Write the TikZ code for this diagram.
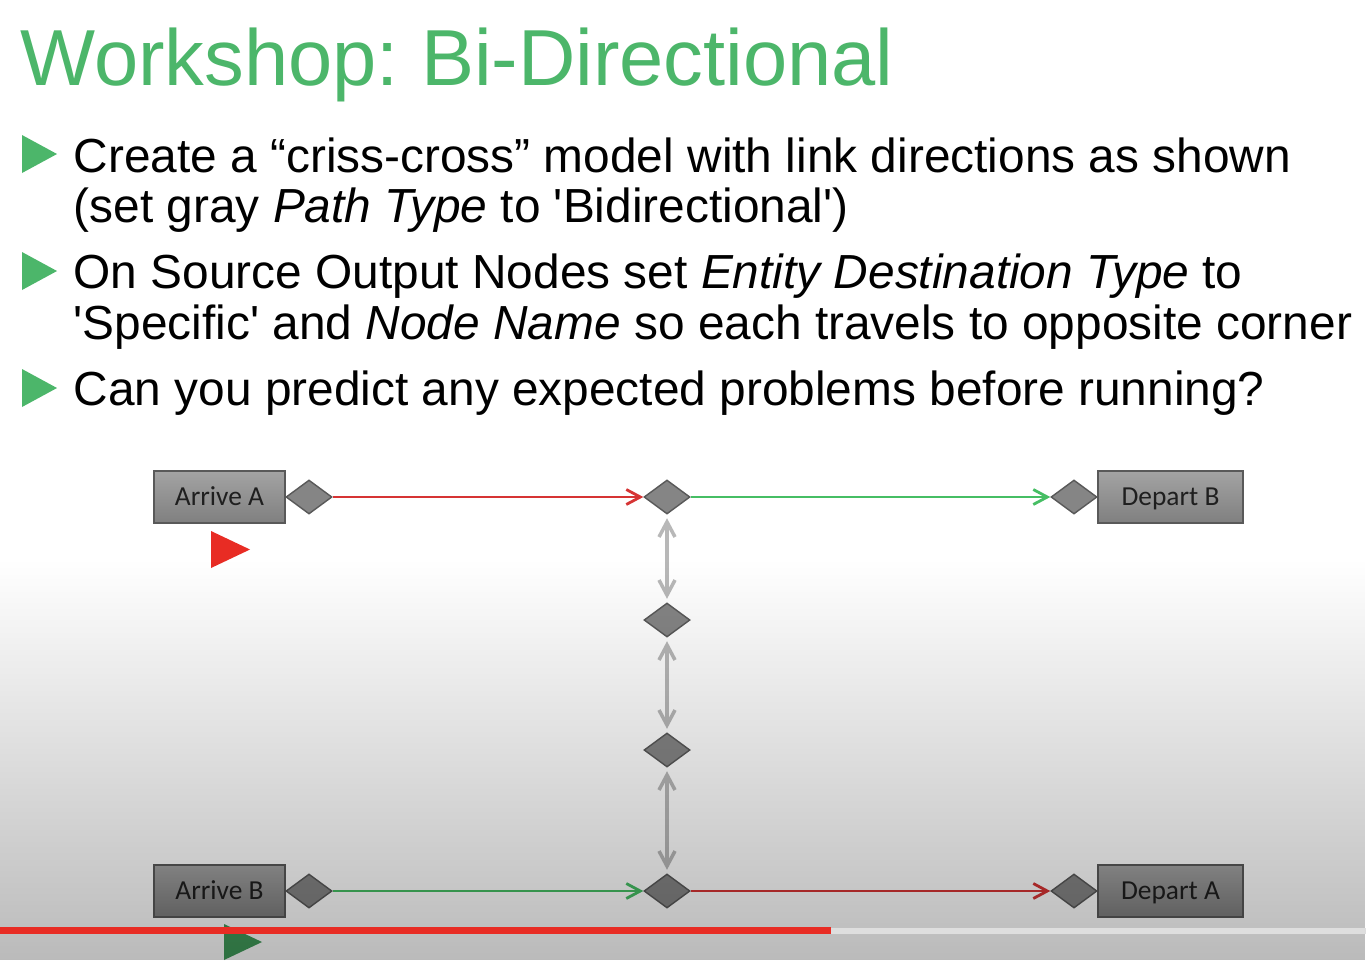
\documentclass[tikz,border=0pt]{standalone}
\usepackage{fontspec}
\setmainfont{Liberation Sans}
\newfontfamily\simfont{Carlito}
\usetikzlibrary{shapes.geometric,arrows.meta,fadings}
\definecolor{slidegreen}{RGB}{76,182,106}
\definecolor{linkred}{RGB}{214,52,52}
\definecolor{linkgreen}{RGB}{70,190,100}
\definecolor{barred}{RGB}{232,44,36}
\newcommand{\apos}{\textquotesingle}
\frenchspacing
\begin{document}
\begin{tikzpicture}[x=0.01cm,y=-0.01cm,
    title/.style={anchor=base west,inner sep=0pt,text=slidegreen,font=\fontsize{22.6}{28}\selectfont},
    line/.style={anchor=base west,inner sep=0pt,font=\fontsize{13.6}{16}\selectfont},
    box/.style={draw=black!65,top color=black!36,bottom color=black!50,minimum width=1.31cm,
      minimum height=0.52cm,inner sep=0pt,text height=5pt,text depth=0.2pt,text=black!88,
      font=\simfont\fontsize{7.8}{9}\selectfont},
    conn/.style={shape=diamond,draw=black!65,fill=black!48,minimum width=0.46cm,
      minimum height=0.34cm,inner sep=0pt},
    link/.style={line width=0.8pt,-{Straight Barb[length=1.4mm,width=1.5mm]}},
    bilink/.style={line width=1pt,black!28,{Straight Barb[length=1.5mm,width=1.6mm]}-{Straight Barb[length=1.5mm,width=1.6mm]},
      shorten <=1pt,shorten >=1pt}]
  \useasboundingbox (0,0) rectangle (1366,960);
  \fill[white] (0,0) rectangle (1366,960);

  % slide text
  \node[title] (title) at (20,85) {Workshop: Bi-Directional};
  \fill[slidegreen] (22,135) -- (57,154) -- (22,173) -- cycle;
  \fill[slidegreen] (22,252) -- (57,271) -- (22,290) -- cycle;
  \fill[slidegreen] (22,369) -- (57,388) -- (22,407) -- cycle;
  \node[line] (b1a) at (73,172) {Create a “criss-cross” model with link directions as shown};
  \node[line] (b1b) at (73,222) {(set gray \textit{Path Type} to \apos Bidirectional\apos)};
  \node[line] (b2a) at (73,288) {On Source Output Nodes set \textit{Entity Destination Type} to};
  \node[line] (b2b) at (73,339) {\apos Specific\apos{} and \textit{Node Name} so each travels to opposite corner};
  \node[line] (b3a) at (73,405) {Can you predict any expected problems before running?};

  % model
  \node[box] (arrA) at (219.5,497) {Arrive A};
  \node[box] (arrB) at (219.5,891) {Arrive B};
  \node[box,minimum width=1.45cm] (depB) at (1170.5,497) {Depart B};
  \node[box,minimum width=1.45cm] (depA) at (1170.5,891) {Depart A};
  \node[conn] (outA) at (309,497) {};
  \node[conn] (outB) at (309,891) {};
  \node[conn] (hubT) at (667,497) {};
  \node[conn] (mid1) at (667,620) {};
  \node[conn] (mid2) at (667,750) {};
  \node[conn] (hubB) at (667,891) {};
  \node[conn] (inB) at (1074,497) {};
  \node[conn] (inA) at (1074,891) {};
  \fill[barred] (211,531) -- (250,549.5) -- (211,568) -- cycle;
  \fill[slidegreen!85!black] (224,924) -- (262,942) -- (224,960) -- cycle;

  \draw[link,linkred] (outA) -- (hubT);
  \draw[link,linkgreen] (hubT) -- (inB);
  \draw[link,linkgreen] (outB) -- (hubB);
  \draw[link,linkred] (hubB) -- (inA);
  \draw[bilink] (hubT) -- (mid1);
  \draw[bilink] (mid1) -- (mid2);
  \draw[bilink] (mid2) -- (hubB);

  % video shading and progress bar
  \fill[black,fill opacity=0.27,path fading=north] (0,560) rectangle (1366,960);
  \fill[barred] (0,927) rectangle (831,934);
  \fill[black!13] (831,928) rectangle (1366,934);
\end{tikzpicture}
\end{document}
